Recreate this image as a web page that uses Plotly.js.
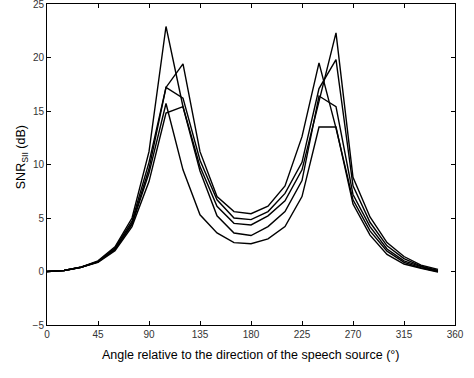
<!DOCTYPE html>
<html>
<head>
<meta charset="utf-8">
<script src="https://cdn.plot.ly/plotly-3.0.1.min.js"></script>
<style>html,body{margin:0;padding:0;background:#fff;}#chart{width:474px;height:378px;}</style>
</head>
<body>
<div id="chart"></div>
<script>
// Angle (degrees) relative to the speech source direction
const angles = [0,15,30,45,60,75,90,105,120,135,150,165,180,195,210,225,240,255,270,285,300,315,330,345];

// SNR_SII (dB) for five conditions
const curveA = [0,0.1,0.4,0.9,2.05,4.4,9.2,15.7,9.5,5.3,3.6,2.7,2.6,3.05,4.2,7.0,13.5,13.5,6.3,3.4,1.6,0.7,0.3,-0.05];
const curveB = [0,0.1,0.4,1.0,2.3,5.0,11.2,22.9,15.4,9.8,6.1,4.5,4.35,5.2,6.6,9.5,15.9,22.3,8.8,5.1,2.7,1.4,0.6,0.2];
const curveC = [0,0.1,0.4,0.95,2.2,4.7,10.2,17.2,19.4,11.2,7.0,5.6,5.4,6.1,8.0,12.6,19.5,13.4,6.7,3.8,1.9,0.85,0.35,0.0];
const curveD = [0,0.1,0.4,0.9,2.1,4.5,9.6,17.2,16.2,10.4,6.7,5.0,4.85,5.6,7.3,10.2,17.1,19.8,8.0,4.6,2.4,1.2,0.5,0.1];
const curveE = [0,0.1,0.4,0.85,1.95,4.2,8.4,14.8,15.4,9.4,5.2,3.6,3.36,4.2,5.6,8.5,16.4,15.4,7.2,4.2,2.1,1.0,0.45,0.05];

const xTicks = [0,45,90,135,180,225,270,315,360];
const yTicks = [-5,0,5,10,15,20,25];

const xTitle = 'Angle relative to the direction of the speech source (°)';
const yTitle = 'SNR<sub>SII</sub> (dB)';

const series = [curveA, curveB, curveC, curveD, curveE];
const traces = series.map(ys => ({
  x: angles, y: ys, type: 'scatter', mode: 'lines',
  line: {color: '#000', width: 1.4}, showlegend: false, hoverinfo: 'skip'
}));

const FONT = 'Liberation Sans, Arial, sans-serif';
const axisCommon = {
  showline: true, linecolor: '#000', linewidth: 1, mirror: 'ticks',
  ticks: 'inside', ticklen: 4, tickcolor: '#000', tickwidth: 1,
  showgrid: false, zeroline: false, ticklabeloverflow: 'allow',
  tickfont: {family: FONT, size: 10, color: '#333'}
};

const layout = {
  width: 474, height: 378,
  margin: {l: 47, r: 19, t: 4, b: 53},
  paper_bgcolor: '#fff', plot_bgcolor: '#fff',
  xaxis: Object.assign({}, axisCommon, {
    range: [0, 360], tickvals: xTicks, ticktext: xTicks.map(String)
  }),
  yaxis: Object.assign({}, axisCommon, {
    range: [-5, 25], tickvals: yTicks,
    ticktext: yTicks.map(v => v < 0 ? '\u2212' + Math.abs(v) : String(v))
  }),
  annotations: [
    {text: xTitle, xref: 'paper', yref: 'paper', x: 0.501, y: -0.0935,
     xanchor: 'center', yanchor: 'middle', showarrow: false,
     font: {family: FONT, size: 12.5, color: '#000'}},
    {text: yTitle, xref: 'paper', yref: 'paper', x: -0.061, y: 0.523,
     xanchor: 'center', yanchor: 'middle', textangle: -90, showarrow: false,
     font: {family: FONT, size: 12.5, color: '#000'}}
  ]
};

Plotly.newPlot('chart', traces, layout, {staticPlot: true, displayModeBar: false});
</script>
</body>
</html>
